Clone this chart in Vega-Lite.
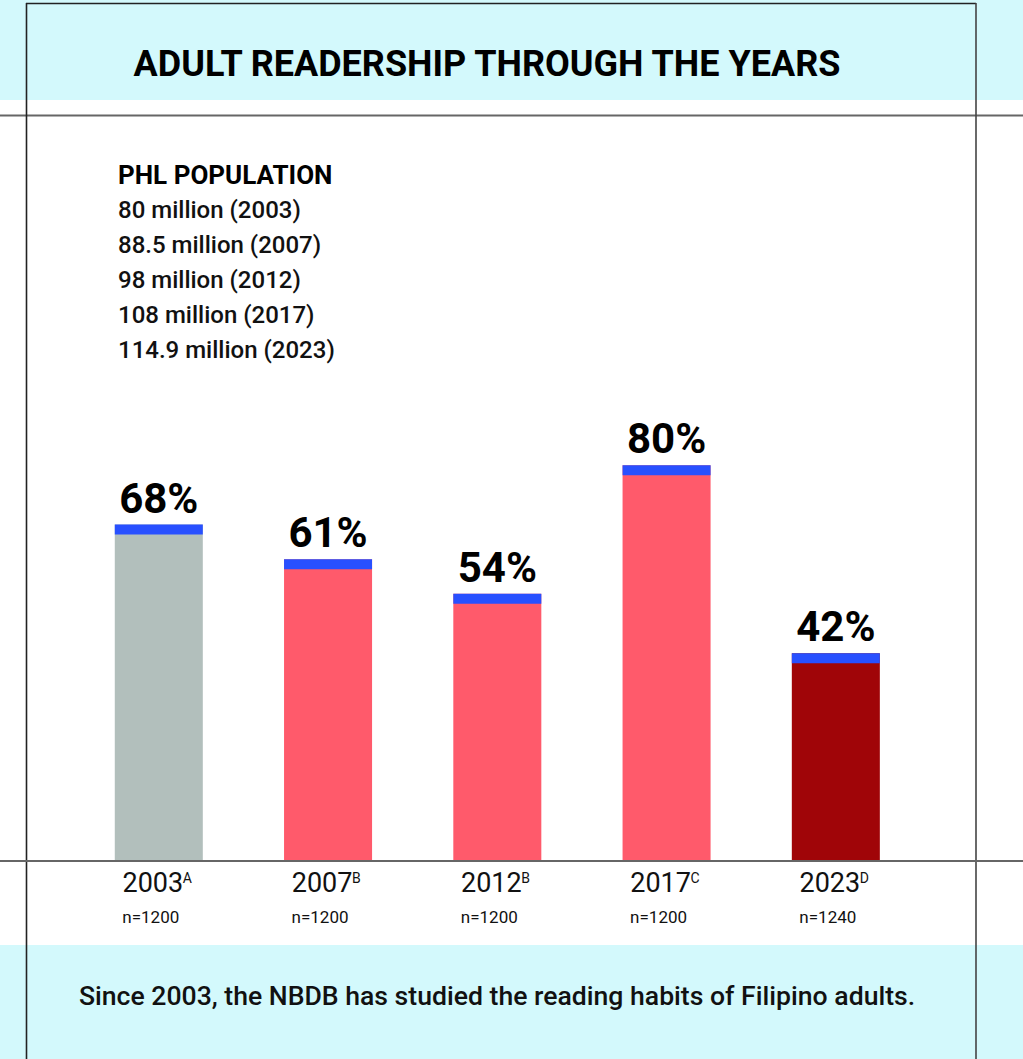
{
  "$schema": "https://vega.github.io/schema/vega-lite/v6.json",
  "width": 1023,
  "height": 1059,
  "autosize": {"type": "none"},
  "padding": 0,
  "background": "#ffffff",
  "config": {"view": {"stroke": null}},
  "data": {
    "values": [
      {"year": "2003", "value": 68, "label": "68%", "note": "A", "sample": "n=1200"},
      {"year": "2007", "value": 61, "label": "61%", "note": "B", "sample": "n=1200"},
      {"year": "2012", "value": 54, "label": "54%", "note": "B", "sample": "n=1200"},
      {"year": "2017", "value": 80, "label": "80%", "note": "C", "sample": "n=1200"},
      {"year": "2023", "value": 42, "label": "42%", "note": "D", "sample": "n=1240"}
    ]
  },
  "layer": [
    {
      "data": {"values": [{}]},
      "mark": {"type": "rect", "x": 0, "x2": 1023, "y": 0, "y2": 100, "fill": "#D3F9FC"},
      "encoding": {}
    },
    {
      "data": {"values": [{}]},
      "mark": {"type": "rect", "x": 0, "x2": 1023, "y": 945, "y2": 1059, "fill": "#D3F9FC"},
      "encoding": {}
    },
    {
      "data": {"values": [{}]},
      "mark": {"type": "rule", "stroke": "#666666", "strokeWidth": 2},
      "encoding": {"x": {"value": 0}, "x2": {"value": 1023}, "y": {"value": 115.5}}
    },
    {
      "data": {"values": [{}]},
      "mark": {"type": "rule", "stroke": "#222222", "strokeWidth": 1.5},
      "encoding": {"x": {"value": 26}, "x2": {"value": 976}, "y": {"value": 3.5}}
    },
    {
      "data": {"values": [{}]},
      "mark": {"type": "rule", "stroke": "#222222", "strokeWidth": 1.6},
      "encoding": {"x": {"value": 26.5}, "y": {"value": 3}, "y2": {"value": 1059}}
    },
    {
      "data": {"values": [{}]},
      "mark": {"type": "rule", "stroke": "#444444", "strokeWidth": 1.6},
      "encoding": {"x": {"value": 976}, "y": {"value": 3}, "y2": {"value": 1059}}
    },
    {
      "mark": {"type": "bar"},
      "encoding": {
        "x": {
          "field": "year", "type": "nominal", "axis": null, "sort": null,
          "scale": {"paddingInner": 0.48, "paddingOuter": 0.762, "align": 0.445}
        },
        "y": {
          "field": "value", "type": "quantitative", "axis": null,
          "scale": {"domain": [-40, 174], "nice": false, "zero": false}
        },
        "y2": {"datum": 0},
        "color": {
          "field": "year", "type": "nominal", "legend": null,
          "scale": {
            "domain": ["2003", "2007", "2012", "2017", "2023"],
            "range": ["#B2BFBC", "#FF5A6B", "#FF5A6B", "#FF5A6B", "#A00508"]
          }
        }
      }
    },
    {
      "mark": {"type": "tick", "thickness": 10, "size": 88, "yOffset": 5, "color": "#2850FF", "opacity": 1},
      "encoding": {
        "x": {"field": "year", "type": "nominal", "sort": null},
        "y": {"field": "value", "type": "quantitative"}
      }
    },
    {
      "data": {"values": [{}]},
      "mark": {"type": "rule", "stroke": "#666666", "strokeWidth": 2},
      "encoding": {"x": {"value": 0}, "x2": {"value": 1023}, "y": {"datum": 0, "type": "quantitative"}}
    },
    {
      "mark": {
        "type": "text", "dy": -12, "baseline": "alphabetic", "align": "center",
        "font": "Roboto", "fontWeight": "bold", "fontSize": 42, "color": "#000000"
      },
      "encoding": {
        "x": {"field": "year", "type": "nominal", "sort": null},
        "y": {"field": "value", "type": "quantitative"},
        "text": {"field": "label"}
      }
    },
    {
      "mark": {
        "type": "text", "y": 892, "dx": -6, "baseline": "alphabetic", "align": "center",
        "font": "Roboto", "fontSize": 27, "color": "#111111"
      },
      "encoding": {
        "x": {"field": "year", "type": "nominal", "sort": null},
        "text": {"field": "year"}
      }
    },
    {
      "mark": {
        "type": "text", "y": 883, "dx": 24, "baseline": "alphabetic", "align": "left",
        "font": "Roboto", "fontSize": 14, "color": "#111111"
      },
      "encoding": {
        "x": {"field": "year", "type": "nominal", "sort": null},
        "text": {"field": "note"}
      }
    },
    {
      "mark": {
        "type": "text", "y": 923, "dx": -8, "baseline": "alphabetic", "align": "center",
        "font": "Roboto", "fontSize": 17, "color": "#111111"
      },
      "encoding": {
        "x": {"field": "year", "type": "nominal", "sort": null},
        "text": {"field": "sample"}
      }
    },
    {
      "data": {"values": [{}]},
      "mark": {
        "type": "text", "x": 487, "y": 76, "baseline": "alphabetic", "align": "center",
        "font": "Roboto", "fontWeight": "bold", "fontSize": 36, "color": "#000000",
        "text": "ADULT READERSHIP THROUGH THE YEARS"
      },
      "encoding": {}
    },
    {
      "data": {"values": [{}]},
      "mark": {
        "type": "text", "x": 118, "y": 184, "baseline": "alphabetic", "align": "left",
        "font": "Roboto", "fontWeight": "bold", "fontSize": 26, "color": "#000000",
        "text": "PHL POPULATION"
      },
      "encoding": {}
    },
    {
      "data": {"values": [{}]},
      "mark": {
        "type": "text", "x": 118, "y": 218, "baseline": "alphabetic", "align": "left",
        "font": "Roboto", "fontWeight": 500, "fontSize": 24, "lineHeight": 35, "color": "#111111",
        "text": ["80 million (2003)", "88.5 million (2007)", "98 million (2012)", "108 million (2017)", "114.9 million (2023)"]
      },
      "encoding": {}
    },
    {
      "data": {"values": [{}]},
      "mark": {
        "type": "text", "x": 497, "y": 1005, "baseline": "alphabetic", "align": "center",
        "font": "Roboto", "fontWeight": 500, "fontSize": 26.6, "color": "#111111",
        "text": "Since 2003, the NBDB has studied the reading habits of Filipino adults."
      },
      "encoding": {}
    }
  ]
}
